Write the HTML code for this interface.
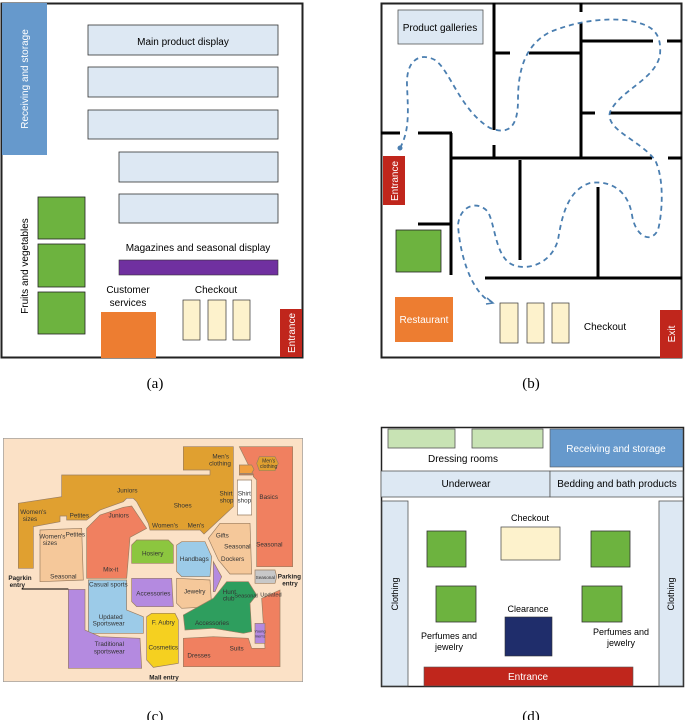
<!DOCTYPE html>
<html><head><meta charset="utf-8"><style>
html,body{margin:0;padding:0;background:#fff;}
body{width:685px;height:720px;position:relative;overflow:hidden;font-family:"Liberation Sans",sans-serif;}
svg{position:absolute;left:0;top:0;}
</style></head><body>
<svg width="685" height="720" viewBox="0 0 685 720" font-family="Liberation Sans, sans-serif">
<!-- (a) -->
<rect x="1.5" y="3.5" width="301" height="354" fill="#fff" stroke="#222" stroke-width="2"/>
<rect x="2" y="3" width="45" height="152" fill="#6699cc"/>
<text transform="translate(28,79) rotate(-90)" text-anchor="middle" font-size="10" fill="#fff">Receiving and storage</text>
<g fill="#dde8f3" stroke="#333" stroke-width="0.8">
<rect x="88" y="25" width="190" height="30"/><rect x="88" y="67" width="190" height="30"/><rect x="88" y="110" width="190" height="29"/>
<rect x="119" y="152" width="159" height="30"/><rect x="119" y="194" width="159" height="29"/></g>
<text x="183" y="45" text-anchor="middle" font-size="10">Main product display</text>
<text x="198" y="251" text-anchor="middle" font-size="10">Magazines and seasonal display</text>
<rect x="119" y="260" width="159" height="15" fill="#7030a0" stroke="#333" stroke-width="0.6"/>
<g fill="#6db33f" stroke="#222" stroke-width="0.8">
<rect x="38" y="197" width="47" height="42"/><rect x="38" y="244" width="47" height="43"/><rect x="38" y="292" width="47" height="42"/></g>
<text transform="translate(28,266) rotate(-90)" text-anchor="middle" font-size="10">Fruits and vegetables</text>
<text x="128" y="293" text-anchor="middle" font-size="10">Customer</text>
<text x="128" y="306" text-anchor="middle" font-size="10">services</text>
<rect x="101" y="312" width="55" height="46" fill="#ed7d31"/>
<text x="216" y="293" text-anchor="middle" font-size="10">Checkout</text>
<g fill="#fdf2cc" stroke="#333" stroke-width="0.7">
<rect x="183" y="300" width="17" height="40"/><rect x="208" y="300" width="18" height="40"/><rect x="233" y="300" width="17" height="40"/></g>
<rect x="280" y="309" width="22" height="48" fill="#c0261c"/>
<text transform="translate(295,333) rotate(-90)" text-anchor="middle" font-size="10" fill="#fff">Entrance</text>

<!-- (b) -->
<rect x="381.5" y="3.5" width="300" height="354" fill="#fff" stroke="#222" stroke-width="2"/>
<rect x="398" y="10" width="85" height="34" fill="#dde8f3" stroke="#555" stroke-width="0.8"/>
<text x="440" y="31" text-anchor="middle" font-size="10">Product galleries</text>
<g stroke="#000" stroke-width="3" fill="none">
<line x1="494" y1="3" x2="494" y2="130"/><line x1="494" y1="145" x2="494" y2="158"/>
<line x1="494" y1="53" x2="510" y2="53"/><line x1="529" y1="53" x2="581" y2="53"/>
<line x1="581" y1="3" x2="581" y2="12"/><line x1="581" y1="22" x2="581" y2="158"/>
<line x1="581" y1="41" x2="653" y2="41"/><line x1="667" y1="41" x2="682" y2="41"/>
<line x1="581" y1="113" x2="595" y2="113"/><line x1="610" y1="113" x2="682" y2="113"/>
<line x1="381" y1="133" x2="400" y2="133"/><line x1="418" y1="133" x2="452" y2="133"/>
<line x1="451" y1="133" x2="451" y2="275"/>
<line x1="451" y1="158" x2="652" y2="158"/><line x1="668" y1="158" x2="682" y2="158"/>
<line x1="520" y1="160" x2="520" y2="260"/>
<line x1="418" y1="224" x2="451" y2="224"/>
<line x1="598" y1="187" x2="598" y2="278"/>
<line x1="485" y1="278" x2="682" y2="278"/>
</g>
<path d="M400,148 C410,130 408,110 407,85 C406,60 420,52 435,60 C450,70 460,110 490,128 C510,136 518,125 518,100 C518,70 525,45 550,32 C575,22 600,18 625,20 C650,24 662,30 660,55 C655,80 620,90 610,112 C605,130 640,140 655,160 C665,180 662,215 658,230 C650,245 635,235 632,215 C628,190 610,180 590,183 C568,190 562,215 558,240 C550,268 520,272 508,262 C495,250 495,225 488,212 C478,200 460,205 458,225 C460,255 470,285 485,298 L492,302" fill="none" stroke="#4a7eb0" stroke-width="1.8" stroke-dasharray="5,4"/>
<circle cx="400" cy="148" r="2.5" fill="#4a7eb0"/>
<path d="M487,298 L493,303 L486,304" fill="none" stroke="#4a7eb0" stroke-width="1.5"/>
<rect x="383" y="156" width="22" height="49" fill="#c0261c"/>
<text transform="translate(398,181) rotate(-90)" text-anchor="middle" font-size="10" fill="#fff">Entrance</text>
<rect x="396" y="230" width="45" height="42" fill="#6db33f" stroke="#222" stroke-width="0.8"/>
<rect x="395" y="297" width="58" height="45" fill="#ed7d31"/>
<text x="424" y="323" text-anchor="middle" font-size="10" fill="#fff">Restaurant</text>
<g fill="#fdf2cc" stroke="#333" stroke-width="0.7">
<rect x="500" y="303" width="18" height="40"/><rect x="527" y="303" width="17" height="40"/><rect x="552" y="303" width="17" height="40"/></g>
<text x="605" y="330" text-anchor="middle" font-size="10">Checkout</text>
<rect x="660" y="310" width="22" height="48" fill="#c0261c"/>
<text transform="translate(675,334) rotate(-90)" text-anchor="middle" font-size="10" fill="#fff">Exit</text>

<!-- (c) -->
<svg x="0" y="430" width="310" height="260" viewBox="0 0 930 780" font-family="Liberation Sans, sans-serif">
<rect x="10" y="25" width="898" height="730" fill="#fbe1c6" stroke="#999" stroke-width="2"/>
<g stroke="#9a7d60" stroke-width="2">
<polygon fill="#e0a030" points="55,415 100,415 100,290 180,275 180,258 200,258 200,270 260,270 300,240 370,215 380,205 400,205 410,215 445,280 450,300 600,300 612,312 700,230 700,50 550,50 550,120 630,120 630,135 185,135 185,200 55,220"/>
<polygon fill="#f08060" points="260,295 300,255 370,232 395,228 440,295 390,322 380,445 260,445"/>
<polygon fill="#f5c89a" points="120,300 245,295 250,450 120,455"/>
<polygon fill="#8cc63f" points="395,345 410,330 505,330 520,345 520,400 395,400"/>
<polygon fill="#9ccbe8" points="530,345 545,335 615,335 635,380 630,440 545,440 530,425"/>
<polygon fill="#b48ae0" points="640,395 665,440 645,485 640,485"/>
<polygon fill="#f5c89a" points="625,325 660,280 750,280 755,432 690,432 655,390"/>
<polygon fill="#ffffff" points="712,150 755,150 755,255 712,255"/>
<polygon fill="#f08060" points="718,50 878,50 878,410 770,410 770,150 760,140 760,132 718,132 718,135 760,135"/>
<polygon fill="#f0a040" points="718,105 755,105 762,118 755,130 718,130"/>
<polygon fill="#e0a030" points="778,80 825,80 835,100 825,122 778,122 770,100"/>
<polygon fill="#c8c8c8" points="765,420 825,420 830,440 825,460 765,460"/>
<polygon fill="#9ccbe8" points="265,450 380,450 380,540 430,560 430,610 265,610"/>
<polygon fill="#b48ae0" points="395,445 515,445 520,530 410,530 395,515"/>
<polygon fill="#f5c89a" points="530,445 630,450 635,530 545,535 530,520"/>
<polygon fill="#b48ae0" points="205,478 255,478 255,600 300,620 420,625 425,715 205,715"/>
<polygon fill="#f5d020" points="440,560 455,550 525,550 535,570 535,700 460,712 440,690"/>
<polygon fill="#2e9e5e" points="550,555 640,505 680,455 745,455 770,495 750,520 755,605 730,610 640,595 555,600"/>
<polygon fill="#f08060" points="550,625 640,620 745,625 755,655 795,655 785,505 840,480 840,710 550,710"/>
<polygon fill="#b48ae0" points="765,580 795,580 795,640 765,640"/>
</g>
<line x1="65" y1="477" x2="205" y2="477" stroke="#000" stroke-width="3"/>
<g font-size="19" fill="#333" text-anchor="middle">
<text x="662" y="85">Men's</text><text x="660" y="106">clothing</text>
<text x="806" y="98" font-size="15">Men's</text><text x="806" y="114" font-size="15">clothing</text>
<text x="382" y="188">Juniors</text><text x="548" y="233">Shoes</text>
<text x="678" y="197">Shirt</text><text x="680" y="218">shop</text>
<text x="733" y="197">Shirt</text><text x="733" y="218">shop</text>
<text x="806" y="207">Basics</text>
<text x="100" y="252">Women's</text><text x="90" y="273">sizes</text>
<text x="238" y="263">Petites</text><text x="356" y="263">Juniors</text>
<text x="495" y="293">Women's</text><text x="588" y="293">Men's</text>
<text x="157" y="325">Women's</text><text x="150" y="345">sizes</text><text x="226" y="320">Petites</text>
<text x="667" y="322">Gifts</text><text x="712" y="355">Seasonal</text><text x="698" y="393">Dockers</text>
<text x="808" y="350">Seasonal</text>
<text x="458" y="376">Hosiery</text><text x="583" y="393">Handbags</text>
<text x="332" y="424">Mix-it</text><text x="190" y="445">Seasonal</text>
<text x="796" y="447" font-size="14">Seasonal</text>
<text x="325" y="470">Casual sports</text><text x="460" y="497">Accessories</text><text x="584" y="491">Jewelry</text>
<text x="688" y="492">Hunt</text><text x="686" y="512">club</text><text x="738" y="503" font-size="17">Seasonal</text>
<text x="813" y="500" font-size="17">Updated</text>
<text x="332" y="567">Updated</text><text x="326" y="587">Sportswear</text>
<text x="490" y="584">F. Aubry</text><text x="636" y="585">Accessories</text>
<text x="780" y="608" font-size="12">Young</text><text x="780" y="622" font-size="12">men's</text>
<text x="328" y="648">Traditional</text><text x="328" y="670">sportswear</text>
<text x="490" y="658">Cosmetics</text><text x="710" y="662">Suits</text><text x="597" y="682">Dresses</text>
</g>
<g font-size="19" font-weight="bold" fill="#222" text-anchor="middle">
<text x="60" y="450">Pagrkin</text><text x="52" y="471">entry</text>
<text x="868" y="445">Parking</text><text x="870" y="466">entry</text>
<text x="492" y="748">Mall entry</text></g>
</svg>

<!-- (d) -->
<rect x="381.5" y="427.5" width="302" height="259" fill="#fff" stroke="#222" stroke-width="1.5"/>
<g fill="#c8e3b4" stroke="#555" stroke-width="0.8"><rect x="388" y="429" width="67" height="19"/><rect x="472" y="429" width="71" height="19"/></g>
<text x="463" y="462" text-anchor="middle" font-size="10">Dressing rooms</text>
<rect x="550" y="429" width="133" height="38" fill="#6699cc" stroke="#555" stroke-width="0.6"/>
<text x="616" y="452" text-anchor="middle" font-size="10" fill="#fff">Receiving and storage</text>
<g fill="#dde8f3" stroke="#555" stroke-width="0.8"><rect x="381" y="471" width="169" height="26"/><rect x="550" y="471" width="133" height="26"/>
<rect x="382" y="501" width="26" height="185"/><rect x="659" y="501" width="24" height="185"/></g>
<text x="466" y="487" text-anchor="middle" font-size="10">Underwear</text>
<text x="617" y="487" text-anchor="middle" font-size="10">Bedding and bath products</text>
<text transform="translate(398,594) rotate(-90)" text-anchor="middle" font-size="9">Clothing</text>
<text transform="translate(674,594) rotate(-90)" text-anchor="middle" font-size="9">Clothing</text>
<g fill="#6db33f" stroke="#333" stroke-width="0.8">
<rect x="427" y="531" width="39" height="36"/><rect x="591" y="531" width="39" height="36"/>
<rect x="436" y="586" width="40" height="36"/><rect x="582" y="586" width="40" height="36"/></g>
<text x="530" y="521" text-anchor="middle" font-size="9">Checkout</text>
<rect x="501" y="527" width="59" height="33" fill="#fdf2cc" stroke="#555" stroke-width="0.8"/>
<text x="528" y="612" text-anchor="middle" font-size="9">Clearance</text>
<rect x="505" y="617" width="47" height="39" fill="#1f2d6b" stroke="#333" stroke-width="0.6"/>
<text x="449" y="639" text-anchor="middle" font-size="9">Perfumes and</text><text x="449" y="650" text-anchor="middle" font-size="9">jewelry</text>
<text x="621" y="635" text-anchor="middle" font-size="9">Perfumes and</text><text x="621" y="646" text-anchor="middle" font-size="9">jewelry</text>
<rect x="424" y="667" width="209" height="19" fill="#c0261c" stroke="#555" stroke-width="0.6"/>
<text x="528" y="680" text-anchor="middle" font-size="10" fill="#fff">Entrance</text>

<g font-family="Liberation Serif, serif" font-size="15" text-anchor="middle" fill="#000">
<text x="155" y="388">(a)</text><text x="531" y="388">(b)</text>
<text x="155" y="721">(c)</text><text x="531" y="721">(d)</text></g>
</svg>
</body></html>
